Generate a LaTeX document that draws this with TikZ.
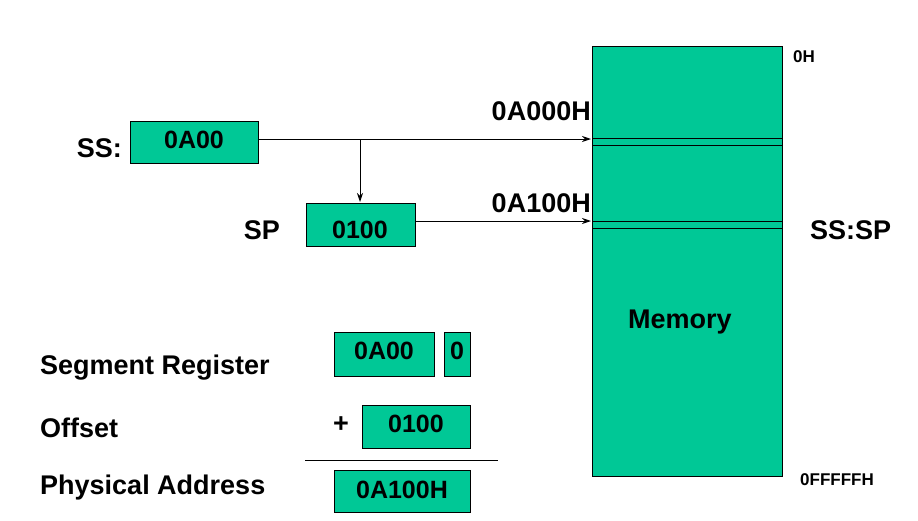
\documentclass[tikz,border=0pt]{standalone}
\usepackage{fontspec}
\usetikzlibrary{arrows.meta}
\setmainfont{Liberation Sans}
\definecolor{mem}{HTML}{00C896}
\begin{document}
\begin{tikzpicture}[x=1pt,y=-1pt,
  box/.style={draw=black,fill=mem,line width=1pt},
  lab/.style={font=\bfseries\fontsize{27}{30}\selectfont,inner sep=0},
  blab/.style={font=\bfseries\fontsize{25}{28}\selectfont,inner sep=0},
  slab/.style={font=\bfseries\fontsize{17}{20}\selectfont,inner sep=0},
  arr/.style={-{Stealth[length=9pt,width=6pt]},line width=0.9pt}]
\useasboundingbox (0,0) rectangle (918,520);
\draw[box] (592,46) rectangle (782,476);
\draw[line width=1pt] (592,138) rectangle (782,145);
\draw[line width=1pt] (592,221) rectangle (782,228);
\node[lab] (mem) at (680,322) {Memory};
\node[slab,anchor=west] (h0) at (793,57) {0H};
\node[slab,anchor=west] (hf) at (800,480) {0FFFFFH};
\node[lab,anchor=west] (sssp) at (810,230) {SS:SP};
\draw[box] (130,121) rectangle (258,163);
\node[blab] (ss) at (194,140) {0A00};
\coordinate (ssr) at (258,139);
\node[lab,anchor=east] (sslab) at (122,148) {SS:};
\draw[box] (306,203) rectangle (415,246);
\node[blab] (sp) at (360,230) {0100};
\node[lab,anchor=east] (splab) at (280,230) {SP};
\coordinate (m1) at (591,139);
\coordinate (m2) at (591,221);
\coordinate (br) at (360,139);
\coordinate (spt) at (360,202);
\coordinate (spr) at (415,221);
\draw[line width=0.9pt] (ssr) -- (br);
\draw[arr] (br) -- (m1);
\draw[arr] (br) -- (spt);
\draw[arr] (spr) -- (m2);
\node[lab,anchor=east] (a1) at (591,111) {0A000H};
\node[lab,anchor=east] (a2) at (591,203) {0A100H};
\node[lab,anchor=west] (seg) at (40,368) {Segment Register};
\node[lab,anchor=west] (off) at (40,428) {Offset};
\node[lab,anchor=west] (phy) at (40,488) {Physical Address};
\draw[box] (334,332) rectangle (434,376);
\node[blab] (b1) at (384,351) {0A00};
\draw[box] (444,332) rectangle (470,376);
\node[blab] (b2) at (457,351) {0};
\node[lab] (plus) at (341,425) {+};
\draw[box] (362,405) rectangle (470,448);
\node[blab] (b3) at (416,424) {0100};
\draw[line width=0.9pt] (305,460) -- (498,460);
\draw[box] (334,470) rectangle (470,512);
\node[blab] (b4) at (402,490) {0A100H};
\end{tikzpicture}
\end{document}
